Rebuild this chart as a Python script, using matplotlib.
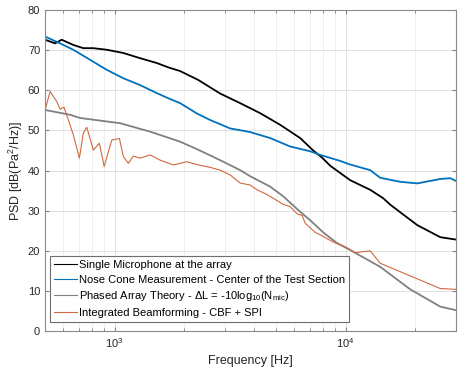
import matplotlib
matplotlib.use("Agg")
import matplotlib.pyplot as plt
import numpy as np
from matplotlib.ticker import LogLocator, NullFormatter

plt.rcParams['font.family'] = ['Liberation Sans', 'DejaVu Sans']
plt.rcParams['mathtext.fontset'] = 'custom'
plt.rcParams['mathtext.rm'] = 'Liberation Sans'
plt.rcParams['mathtext.it'] = 'Liberation Sans:italic'

# values (frequency in Hz, PSD in dB)
mic_freq = [500, 553, 590, 663, 732, 809, 925, 1091, 1289, 1522, 1710, 1920, 2298,
            2861, 3493, 4263, 5203, 6353, 7234, 7910, 8568, 10456, 12764, 14534,
            15580, 20400, 25650, 30000]
mic_psd = [72.6, 71.7, 72.6, 71.3, 70.5, 70.5, 70.1, 69.3, 68.0, 66.8, 65.7, 64.8, 62.6,
           59.2, 56.8, 54.3, 51.4, 48.1, 45.0, 43.2, 41.2, 37.6, 35.2, 33.1,
           31.5, 26.4, 23.4, 22.8]

nose_freq = [500, 581, 663, 783, 925, 1091, 1289, 1522, 1710, 1920, 2275, 2590, 3161,
             3858, 4710, 5749, 7020, 7754, 9463, 10456, 12764, 14105, 17215, 20400,
             25650, 28340, 30000]
nose_psd = [73.4, 71.7, 70.1, 67.6, 65.1, 63.0, 61.3, 59.3, 58.0, 56.8, 54.2, 52.6, 50.5,
            49.6, 48.1, 46.0, 44.8, 43.9, 42.4, 41.5, 40.1, 38.2, 37.2, 36.8,
            37.9, 38.1, 37.4]

theory_freq = [500, 642, 709, 1056, 1424, 1920, 2298, 2861, 3493, 3858, 4710, 5362,
               6165, 7020, 7990, 9186, 10456, 14105, 19021, 25650, 30000]
theory_psd = [55.1, 53.9, 53.1, 51.8, 49.7, 47.2, 45.2, 42.6, 40.1, 38.6, 36.0, 33.6,
              30.4, 27.6, 24.6, 21.9, 20.2, 16.0, 10.4, 6.1, 5.2]

ibf_freq = [500, 526, 562, 581, 604, 631, 663, 704, 732, 758, 809, 859, 901, 972,
            1049, 1091, 1147, 1205, 1289, 1424, 1574, 1797, 2053, 2305, 2590, 2861,
            3161, 3493, 3858, 4138, 4571, 5050, 5362, 5749, 6165, 6481, 6676, 7379,
            7754, 8828, 9947, 10990, 11903, 12764, 14105, 17215, 21020, 25650, 30000]
ibf_psd = [55.1, 59.7, 57.2, 55.3, 55.8, 52.6, 48.9, 43.1, 49.3, 50.8, 45.1, 46.8,
           41.0, 47.6, 48.0, 43.5, 41.8, 43.6, 43.1, 43.9, 42.6, 41.4, 42.2, 41.4,
           40.8, 40.1, 38.9, 36.9, 36.4, 35.2, 34.0, 32.5, 31.6, 31.0, 29.2, 28.8,
           26.9, 24.6, 24.0, 22.2, 21.0, 19.5, 19.8, 20.0, 16.9, 14.8, 12.7, 10.6, 10.4]

labels = ["Single Microphone at the array",
          "Nose Cone Measurement - Center of the Test Section",
          "Phased Array Theory - \u0394L = -10log$_{10}$(N$_{\\mathrm{mic}}$)",
          "Integrated Beamforming - CBF + SPI"]

fig = plt.figure(figsize=(4.74, 3.72), dpi=100)
ax = fig.add_axes([0.095, 0.110, 0.867, 0.863])

ax.plot(mic_freq, mic_psd, color='black', lw=1.3, label=labels[0])
ax.plot(nose_freq, nose_psd, color='#0072BD', lw=1.3, label=labels[1])
ax.plot(theory_freq, theory_psd, color='#808080', lw=1.3, label=labels[2])
ax.plot(ibf_freq, ibf_psd, color='#D0693F', lw=0.8, label=labels[3])

ax.set_xscale('log')
ax.set_xlim(500, 30000)
ax.set_ylim(0, 80)
ax.set_yticks(np.arange(0, 81, 10))
ax.xaxis.set_minor_locator(LogLocator(base=10, subs=np.arange(2, 10)))
ax.xaxis.set_minor_formatter(NullFormatter())

ax.grid(True, which='major', color='#dcdcdc', lw=0.6)
ax.grid(True, which='minor', axis='x', color='#e8e8e8', lw=0.5)
ax.set_axisbelow(True)
ax.tick_params(which='both', direction='in', top=True, right=True,
               colors='#808080', labelcolor='#262626', labelsize=8)
ax.tick_params(which='major', length=3)
ax.tick_params(which='minor', length=2)
for s in ax.spines.values():
    s.set_color('#8a8a8a')
    s.set_linewidth(0.8)

ax.set_xlabel("Frequency [Hz]", fontsize=9, color='#262626', labelpad=4)
ax.set_ylabel("PSD [dB(Pa$^2$/Hz)]", fontsize=9, color='#262626', labelpad=2)

leg = ax.legend(loc='lower left', bbox_to_anchor=(0.012, 0.027), fontsize=8,
                frameon=True, fancybox=False, framealpha=1, edgecolor='#6e6e6e',
                handlelength=2.0, handletextpad=0.2, labelspacing=0.42,
                borderpad=0.4, borderaxespad=0)
leg.get_frame().set_linewidth(0.8)
for line in leg.get_lines():
    line.set_linewidth(0.8)

fig.savefig("out.png", dpi=100)
